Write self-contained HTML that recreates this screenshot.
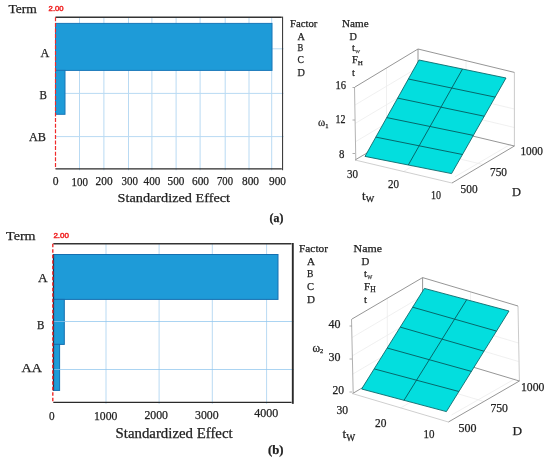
<!DOCTYPE html>
<html lang="en"><head><meta charset="utf-8"><title>Pareto charts and surface plots</title>
<style>html,body{margin:0;padding:0;background:#fff}body{width:550px;height:462px;overflow:hidden}svg{display:block}</style>
</head><body>
<svg width="550" height="462" viewBox="0 0 550 462" font-family='"Liberation Serif", serif' fill="#222" stroke="#222" stroke-width="0.25">
<rect width="550" height="462" fill="#fff" stroke="none"/>
<g id="chart-a">
<path d="M79.5 17.3V170.3 M103.9 17.3V170.3 M128.5 17.3V170.3 M151.9 17.3V170.3 M176.1 17.3V170.3 M200.1 17.3V170.3 M225.2 17.3V170.3 M249.0 17.3V170.3 M271.7 17.3V170.3 M55.5 48.8H283.6 M55.5 93.4H283.6 M55.5 136.6H283.6" stroke="#b9daf3" stroke-width="1" fill="none"/>
<rect x="55.5" y="23.4" width="216.5" height="47.0" fill="#1e9bd8" stroke="#1877b8" stroke-width="1"/>
<rect x="55.5" y="70.4" width="9.5" height="43.9" fill="#1e9bd8" stroke="#1877b8" stroke-width="1"/>
<path d="M55.5 17.3H281.8" stroke="#333" stroke-width="1.4" fill="none"/>
<path d="M282.6 16.6V170.20000000000002" stroke="#2a2a2a" stroke-width="1.0" fill="none"/>
<path d="M55.5 168.8H281.8" stroke="#2a2a2a" stroke-width="1.2" fill="none"/>
<path d="M55.5 17.3V168.8" stroke="#f02a2a" stroke-width="1.2" stroke-dasharray="4 1.6" fill="none"/>
<text x="8.4" y="13" font-size="13" textLength="28.4" lengthAdjust="spacingAndGlyphs">Term</text>
<text x="48.6" y="11.4" font-size="7.5" textLength="15.0" lengthAdjust="spacingAndGlyphs" fill="#f02828" stroke="#f02828" font-family='"Liberation Sans", sans-serif' stroke-width="0.5">2.00</text>
<text x="40.6" y="57" font-size="13" textLength="8.8" lengthAdjust="spacingAndGlyphs">A</text>
<text x="39.6" y="99" font-size="13" textLength="7.4" lengthAdjust="spacingAndGlyphs">B</text>
<text x="29" y="140.6" font-size="13" textLength="17" lengthAdjust="spacingAndGlyphs">AB</text>
<text x="52.8" y="184.7" font-size="12" textLength="5.8" lengthAdjust="spacingAndGlyphs">0</text>
<text x="71.6" y="185.7" font-size="12" textLength="16.4" lengthAdjust="spacingAndGlyphs">100</text>
<text x="95.6" y="184.7" font-size="12" textLength="17.0" lengthAdjust="spacingAndGlyphs">200</text>
<text x="121.6" y="184.7" font-size="12" textLength="16.4" lengthAdjust="spacingAndGlyphs">300</text>
<text x="143.6" y="184.7" font-size="12" textLength="16.8" lengthAdjust="spacingAndGlyphs">400</text>
<text x="167.6" y="184.7" font-size="12" textLength="16.8" lengthAdjust="spacingAndGlyphs">500</text>
<text x="192" y="184.7" font-size="12" textLength="17" lengthAdjust="spacingAndGlyphs">600</text>
<text x="217" y="184.7" font-size="12" textLength="16" lengthAdjust="spacingAndGlyphs">700</text>
<text x="242" y="184.7" font-size="12" textLength="17" lengthAdjust="spacingAndGlyphs">800</text>
<text x="269" y="184.7" font-size="12" textLength="17" lengthAdjust="spacingAndGlyphs">900</text>
<text x="117.6" y="202" font-size="13.5" textLength="112.4" lengthAdjust="spacingAndGlyphs">Standardized Effect</text>
<text x="269.6" y="221.5" font-size="11.5" textLength="13.8" lengthAdjust="spacingAndGlyphs" font-weight="bold">(a)</text>
</g>
<g id="legend-a">
<text x="290" y="26.6" font-size="10.5" textLength="27.4" lengthAdjust="spacingAndGlyphs">Factor</text>
<text x="342" y="26.6" font-size="10.5" textLength="26.6" lengthAdjust="spacingAndGlyphs">Name</text>
<text x="297.6" y="39.6" font-size="10.5" textLength="7.4" lengthAdjust="spacingAndGlyphs">A</text>
<text x="297.6" y="51" font-size="10.5" textLength="5.8" lengthAdjust="spacingAndGlyphs">B</text>
<text x="297.6" y="63" font-size="10.5" textLength="6.4" lengthAdjust="spacingAndGlyphs">C</text>
<text x="297.6" y="75.5" font-size="10.5" textLength="7.4" lengthAdjust="spacingAndGlyphs">D</text>
<text x="349.6" y="39.6" font-size="10.5" textLength="7.4" lengthAdjust="spacingAndGlyphs">D</text>
<text x="352" y="51" font-size="10.5">t<tspan font-size="7" dy="1.5" fill="#555" stroke="#555">w</tspan></text>
<text x="352" y="63" font-size="10.5">F<tspan font-size="7" dy="1.8">H</tspan></text>
<text x="352" y="75.5" font-size="10.5">t</text>
</g>
<g id="surf-a">
<path d="M355 123.5L418 86 M355 105L418 67.5 M355 142L418 104.5 M386.5 68V141.5 M418 86L514.4 109 M466 60.7V134.5 M418 104.5L514.4 127.5" stroke="#ececec" stroke-width="0.8" fill="none"/>
<path d="M403.5 171.5L466 134.6 M483 164.5L387 141.5 M455 176.8L511 144" stroke="#ececec" stroke-width="0.8" fill="none"/>
<path d="M354.5 87L355.8 160.5" stroke="#b4b4b4" stroke-width="1" fill="none"/>
<path d="M514.4 72.4V146" stroke="#c4c4c4" stroke-width="0.9" fill="none"/>
<path d="M355 87L418 49L514.4 72.4 M418 49V123 M355 160L418 123L514.4 146" stroke="#8a8a8a" stroke-width="0.9" fill="none"/>
<polygon points="419.0,60.0 506.0,78.0 451.6,173.6 365.0,156.4" fill="#03dede" stroke="#0b6a6c" stroke-width="0.9" stroke-linejoin="miter"/>
<path d="M408.4,79.0 L495.1,97.1 M397.7,98.1 L484.2,116.2 M386.8,117.6 L473.4,135.4 M375.8,137.1 L462.5,154.5 M462.5,69.0 L408.3,165.0" fill="none" stroke="#075a5e" stroke-width="0.9"/>
<path d="M355 160L452 183" stroke="#cacaca" stroke-width="0.9" fill="none"/>
<path d="M452 183L514.4 146" stroke="#8a8a8a" stroke-width="0.9" fill="none"/>
<path d="M352.5 87.5H355 M352.5 120H355 M352.5 153.5H355" stroke="#999" stroke-width="0.8" fill="none"/>
<text x="335.4" y="88.6" font-size="12" textLength="10.6" lengthAdjust="spacingAndGlyphs">16</text>
<text x="335.6" y="123" font-size="12" textLength="10.0" lengthAdjust="spacingAndGlyphs">12</text>
<text x="339" y="157.6" font-size="12" textLength="5.4" lengthAdjust="spacingAndGlyphs">8</text>
<text x="318" y="126.4" font-size="11">ω<tspan font-size="6.5" dy="1.4">1</tspan></text>
<text x="347" y="178" font-size="12" textLength="11" lengthAdjust="spacingAndGlyphs">30</text>
<text x="388" y="188.4" font-size="12" textLength="11" lengthAdjust="spacingAndGlyphs">20</text>
<text x="431" y="199" font-size="12" textLength="10" lengthAdjust="spacingAndGlyphs">10</text>
<text x="362" y="199.6" font-size="13">t<tspan font-size="9" dy="2.8">W</tspan></text>
<text x="460.6" y="193" font-size="12" textLength="17.0" lengthAdjust="spacingAndGlyphs">500</text>
<text x="490" y="176" font-size="12" textLength="17" lengthAdjust="spacingAndGlyphs">750</text>
<text x="520.4" y="155" font-size="12" textLength="22.6" lengthAdjust="spacingAndGlyphs">1000</text>
<text x="512" y="196.4" font-size="13" textLength="9" lengthAdjust="spacingAndGlyphs">D</text>
</g>
<g id="chart-b">
<path d="M106 243.8V403.9 M159.1 243.8V403.9 M212.3 243.8V403.9 M266.6 243.8V403.9" stroke="#b9daf3" stroke-width="1" fill="none"/>
<rect x="53.3" y="254.5" width="224.7" height="44.9" fill="#1e9bd8" stroke="#166fb0" stroke-width="1"/>
<rect x="53.3" y="299.4" width="11.0" height="45.0" fill="#1e9bd8" stroke="#166fb0" stroke-width="1"/>
<rect x="53.3" y="344.4" width="6.3" height="46.0" fill="#1e9bd8" stroke="#166fb0" stroke-width="1"/>
<path d="M53.3 321.5H293.8 M53.3 369.5H293.8" stroke="#8fc6ee" stroke-opacity="0.75" stroke-width="1" fill="none"/>
<path d="M53.3 243.8H291.55" stroke="#333" stroke-width="1.6" fill="none"/>
<path d="M292.8 243.0V403.84999999999997" stroke="#2a2a2a" stroke-width="1.9" fill="none"/>
<path d="M53.3 402.4H291.55" stroke="#2a2a2a" stroke-width="1.3" fill="none"/>
<path d="M53.599999999999994 254.5V390.4" stroke="#14283c" stroke-width="1" fill="none"/>
<path d="M52.8 243.8V402.4" stroke="#f02a2a" stroke-width="1.4" stroke-dasharray="3.4 2.1" fill="none"/>
<text x="6" y="239.6" font-size="13.5" textLength="29.6" lengthAdjust="spacingAndGlyphs">Term</text>
<text x="53.4" y="238" font-size="8" textLength="15.6" lengthAdjust="spacingAndGlyphs" fill="#f02828" stroke="#f02828" font-family='"Liberation Sans", sans-serif' stroke-width="0.5">2.00</text>
<text x="38" y="282" font-size="13.5" textLength="9.6" lengthAdjust="spacingAndGlyphs">A</text>
<text x="37" y="329" font-size="13.5" textLength="7.4" lengthAdjust="spacingAndGlyphs">B</text>
<text x="21.6" y="372.4" font-size="13.5" textLength="20.4" lengthAdjust="spacingAndGlyphs">AA</text>
<text x="49" y="419.6" font-size="12.5" textLength="5.6" lengthAdjust="spacingAndGlyphs">0</text>
<text x="94" y="419.6" font-size="12.5" textLength="23.4" lengthAdjust="spacingAndGlyphs">1000</text>
<text x="144.4" y="418.6" font-size="12.5" textLength="23.6" lengthAdjust="spacingAndGlyphs">2000</text>
<text x="195" y="418.6" font-size="12.5" textLength="23.6" lengthAdjust="spacingAndGlyphs">3000</text>
<text x="254.3" y="417.3" font-size="12.5" textLength="24.0" lengthAdjust="spacingAndGlyphs">4000</text>
<text x="115.6" y="438" font-size="14" textLength="117.0" lengthAdjust="spacingAndGlyphs">Standardized Effect</text>
<text x="268" y="454" font-size="12.5" textLength="15.6" lengthAdjust="spacingAndGlyphs" font-weight="bold">(b)</text>
</g>
<g id="legend-b">
<text x="299" y="252" font-size="11" textLength="29" lengthAdjust="spacingAndGlyphs">Factor</text>
<text x="353.6" y="252" font-size="11" textLength="28.4" lengthAdjust="spacingAndGlyphs">Name</text>
<text x="307" y="265" font-size="11" textLength="8" lengthAdjust="spacingAndGlyphs">A</text>
<text x="307" y="277.4" font-size="11" textLength="6.4" lengthAdjust="spacingAndGlyphs">B</text>
<text x="307" y="290.4" font-size="11" textLength="7" lengthAdjust="spacingAndGlyphs">C</text>
<text x="307" y="303" font-size="11" textLength="8" lengthAdjust="spacingAndGlyphs">D</text>
<text x="361.6" y="265" font-size="11" textLength="7.8" lengthAdjust="spacingAndGlyphs">D</text>
<text x="364" y="277.4" font-size="11">t<tspan font-size="7.5" dy="1.5" fill="#555" stroke="#555">w</tspan></text>
<text x="364" y="290.4" font-size="11">F<tspan font-size="7.5" dy="1.8">H</tspan></text>
<text x="364" y="303" font-size="11">t</text>
</g>
<g id="surf-b">
<path d="M352 356L422.6 314.5 M352 337.5L422.6 296 M352 374.5L422.6 333 M387.3 298.3V373 M422.6 314.5L518.5 343 M470.5 292V366.5 M422.6 333L518.5 361.5" stroke="#ececec" stroke-width="0.8" fill="none"/>
<path d="M400.5 408L471 367 M484 401.5L388 373 M451.5 415L515.5 378.5" stroke="#ececec" stroke-width="0.8" fill="none"/>
<path d="M351.5 319L353.2 393.6" stroke="#b0b0b0" stroke-width="1" fill="none"/>
<path d="M518 306L519.4 381" stroke="#c4c4c4" stroke-width="0.9" fill="none"/>
<path d="M352 319L422.6 277.6L518 306 M422.6 277.6V352 M352.5 393.6L422.6 352L519.4 381" stroke="#8a8a8a" stroke-width="0.9" fill="none"/>
<polygon points="424.4,288.4 509.0,311.0 446.4,411.6 361.6,389.0" fill="#03dede" stroke="#0b6a6c" stroke-width="0.9" stroke-linejoin="miter"/>
<path d="M412.7,307.2 L496.5,331.1 M400.2,327.1 L484.0,351.2 M387.2,348.0 L471.4,371.4 M374.2,368.9 L458.9,391.5 M466.7,299.7 L404.0,400.3" fill="none" stroke="#075a5e" stroke-width="0.9"/>
<path d="M352.5 393.6L448.4 422" stroke="#cacaca" stroke-width="0.9" fill="none"/>
<path d="M448.4 422L519.4 381" stroke="#8a8a8a" stroke-width="0.9" fill="none"/>
<path d="M349.5 326H352 M349.5 359H352 M349.5 392H352" stroke="#999" stroke-width="0.8" fill="none"/>
<text x="328.4" y="328.4" font-size="12.5" textLength="12.0" lengthAdjust="spacingAndGlyphs">40</text>
<text x="328.4" y="361.4" font-size="12.5" textLength="12.0" lengthAdjust="spacingAndGlyphs">30</text>
<text x="332.4" y="394.4" font-size="12.5" textLength="11.6" lengthAdjust="spacingAndGlyphs">20</text>
<text x="312.4" y="352.4" font-size="11.5">ω<tspan font-size="6.5" dy="1">2</tspan></text>
<text x="336.4" y="414.4" font-size="12.5" textLength="11.6" lengthAdjust="spacingAndGlyphs">30</text>
<text x="375" y="427" font-size="12.5" textLength="11.4" lengthAdjust="spacingAndGlyphs">20</text>
<text x="423.4" y="438.4" font-size="12.5" textLength="11.0" lengthAdjust="spacingAndGlyphs">10</text>
<text x="342.4" y="438" font-size="13.5">t<tspan font-size="9.5" dy="3">W</tspan></text>
<text x="458.4" y="431.6" font-size="12.5" textLength="18.0" lengthAdjust="spacingAndGlyphs">500</text>
<text x="490.4" y="412" font-size="12.5" textLength="17.6" lengthAdjust="spacingAndGlyphs">750</text>
<text x="521" y="391" font-size="12.5" textLength="23.4" lengthAdjust="spacingAndGlyphs">1000</text>
<text x="512.4" y="435.4" font-size="13.5" textLength="9.6" lengthAdjust="spacingAndGlyphs">D</text>
</g>
</svg>
</body></html>
